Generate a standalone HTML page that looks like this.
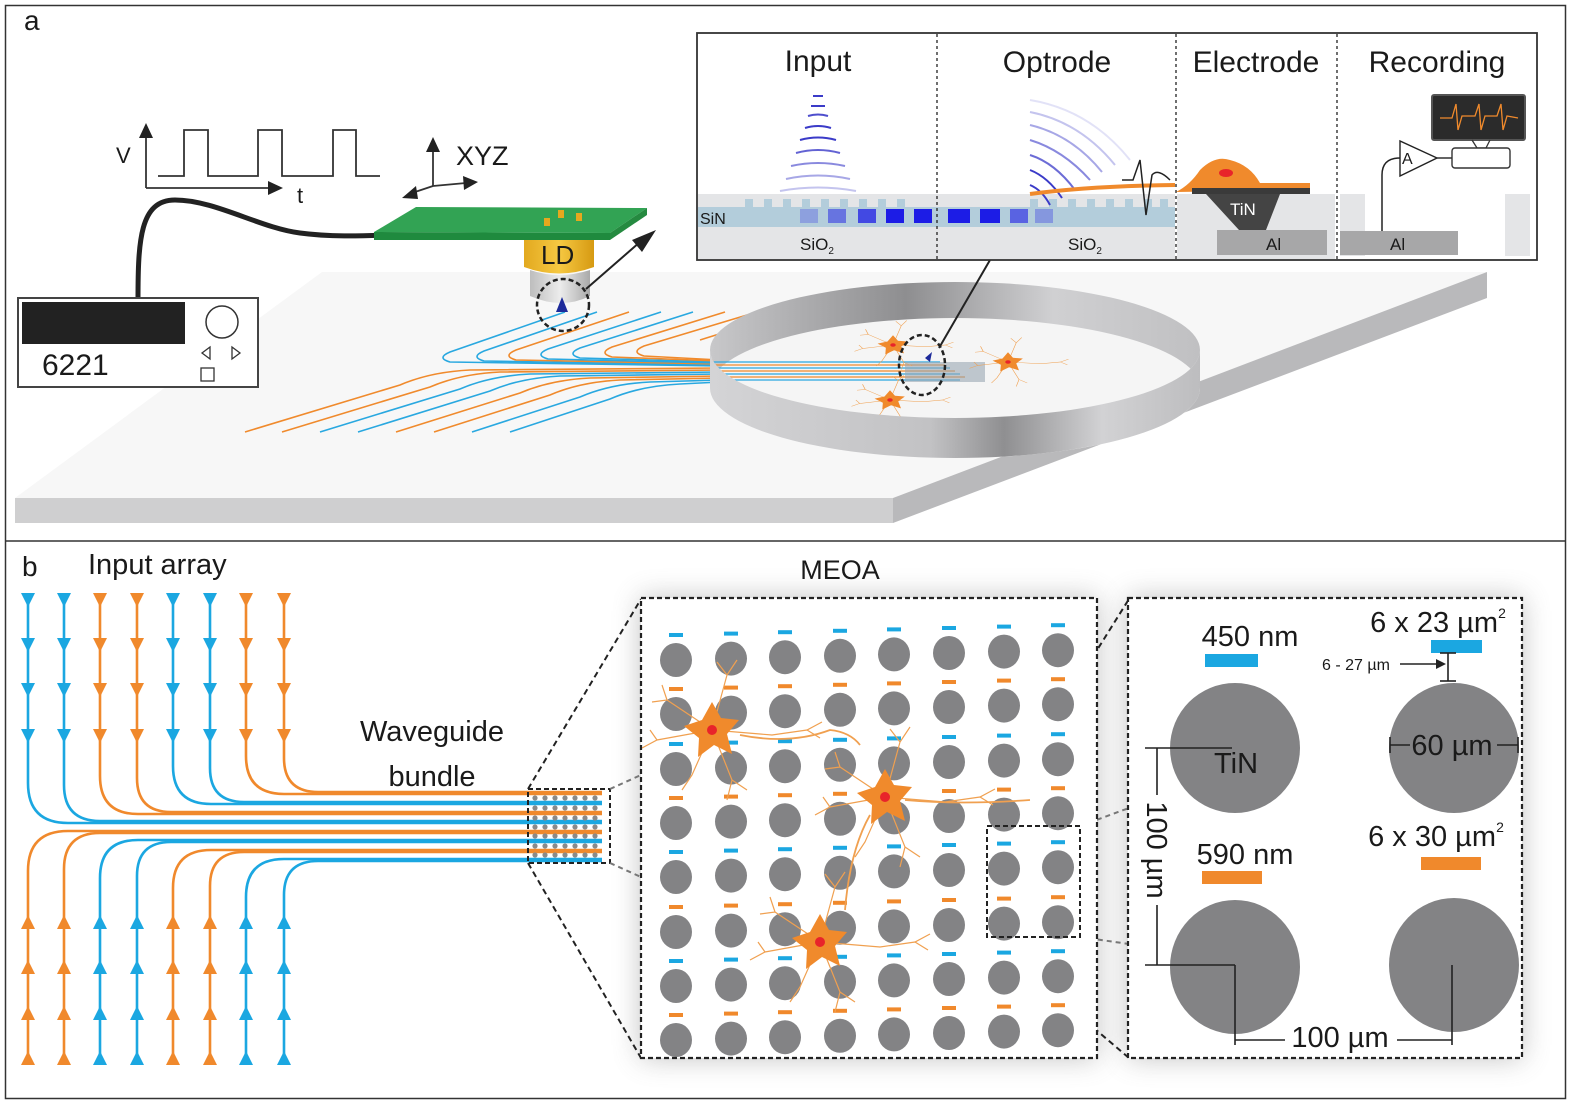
<!DOCTYPE html>
<html><head><meta charset="utf-8"><style>
html,body{margin:0;padding:0;background:#fff}
svg{display:block}
text{font-family:"Liberation Sans",sans-serif;fill:#1a1a1a}
</style></head><body>
<svg width="1575" height="1115" viewBox="0 0 1575 1115" xmlns="http://www.w3.org/2000/svg">
<defs>
<linearGradient id="wall" x1="0" x2="1" y1="0" y2="0">
<stop offset="0" stop-color="#d4d4d6"/><stop offset="0.45" stop-color="#c2c2c4"/><stop offset="0.6" stop-color="#8f8f91"/><stop offset="0.8" stop-color="#d2d2d4"/><stop offset="1" stop-color="#bdbdbf"/></linearGradient>
<linearGradient id="bwall" x1="0" x2="1"><stop offset="0" stop-color="#c8c8ca"/><stop offset="0.4" stop-color="#8e8e90"/><stop offset="0.7" stop-color="#d0d0d2"/><stop offset="1" stop-color="#c0c0c2"/></linearGradient>
<linearGradient id="cone" x1="0" x2="1"><stop offset="0" stop-color="#bdbdbd"/><stop offset="0.5" stop-color="#ececec"/><stop offset="1" stop-color="#a9a9a9"/></linearGradient>
<linearGradient id="ld" x1="0" x2="1"><stop offset="0" stop-color="#e2a91f"/><stop offset="0.5" stop-color="#f6c842"/><stop offset="1" stop-color="#d69a12"/></linearGradient>
<filter id="sh" x="-20%" y="-20%" width="140%" height="140%"><feGaussianBlur stdDeviation="14"/></filter>
<g id="crow">
<ellipse cx="676" cy="0" rx="16" ry="17"/><ellipse cx="731" cy="-1.4" rx="16" ry="17"/><ellipse cx="785" cy="-2.8" rx="16" ry="17"/><ellipse cx="840" cy="-4.2" rx="16" ry="17"/><ellipse cx="894" cy="-5.6" rx="16" ry="17"/><ellipse cx="949" cy="-7" rx="16" ry="17"/><ellipse cx="1004" cy="-8.4" rx="16" ry="17"/><ellipse cx="1058" cy="-9.8" rx="16" ry="17"/></g>
<g id="drow">
<rect x="669" y="-27" width="14" height="4"/><rect x="724" y="-28.4" width="14" height="4"/><rect x="778" y="-29.8" width="14" height="4"/><rect x="833" y="-31.2" width="14" height="4"/><rect x="887" y="-32.6" width="14" height="4"/><rect x="942" y="-34" width="14" height="4"/><rect x="997" y="-35.4" width="14" height="4"/><rect x="1051" y="-36.8" width="14" height="4"/></g>
<g id="neu">
<g stroke="#f0a050" stroke-width="1.2" fill="none">
<path d="M0,0 L-45,-30 L-60,-28 M-45,-30 L-50,-45 M0,0 L-55,10 L-70,18 M-55,10 L-62,0 M0,0 L15,-55 L25,-70 M15,-55 L5,-68 M0,0 L60,5 L95,0 L110,-8 M95,0 L108,8 M0,0 L20,50 L15,70 M20,50 L35,60 M0,0 L-20,45 L-30,60"/></g>
<path d="M0,-28 L9,-12 L27,-10 L15,4 L20,24 L2,15 L-14,27 L-13,8 L-28,-4 L-10,-10 Z" fill="#f08a2c"/>
<circle cx="0" cy="0" r="5" fill="#e8242a"/></g>
<g id="neuA" transform="scale(0.55,0.35)"><use href="#neu"/></g>
</defs>

<!-- outer frame -->
<rect x="5.5" y="5.5" width="1560" height="1093" fill="#fff" stroke="#333" stroke-width="1.5"/>
<line x1="5" y1="541" x2="1566" y2="541" stroke="#333" stroke-width="1.5"/>
<text x="24" y="30" font-size="28">a</text>
<text x="22" y="576" font-size="28">b</text>

<!-- ===== PART A ===== -->
<!-- plate -->
<polygon points="15,498 322,272 1487,272 893,498" fill="#f7f7f7"/>
<polygon points="15,498 893,498 893,523 15,523" fill="#cfcfd0"/>
<polygon points="893,498 1487,272 1487,298 893,523" fill="#b9b9bb"/>

<!-- waveguides on plate top group -->
<g fill="none" stroke-width="1.6">
<path d="M565,312 L450,352 Q436,358 450,362 L720,366" stroke="#29a8e0"/>
<path d="M597,312 L484,351 Q470,357 484,361 L720,365" stroke="#29a8e0"/>
<path d="M629,312 L516,350 Q502,356 516,360 L720,364" stroke="#f08a2c"/>
<path d="M661,312 L548,349 Q534,355 548,359 L720,363" stroke="#29a8e0"/>
<path d="M693,312 L580,348 Q566,354 580,358 L720,362" stroke="#29a8e0"/>
<path d="M725,312 L612,347 Q598,353 612,357 L720,361" stroke="#f08a2c"/>
<path d="M757,312 L644,346 Q630,352 644,356 L720,360" stroke="#f08a2c"/>
<path d="M789,312 L700,340" stroke="#f08a2c"/>
<path d="M720,368 L470,370 Q430,372 400,385 L245,432" stroke="#f08a2c"/>
<path d="M720,370 L500,372 Q460,374 430,387 L282,432" stroke="#f08a2c"/>
<path d="M720,372 L530,374 Q490,376 460,389 L320,432" stroke="#29a8e0"/>
<path d="M720,374 L560,376 Q520,378 490,391 L358,432" stroke="#29a8e0"/>
<path d="M720,376 L590,378 Q550,380 520,393 L396,432" stroke="#f08a2c"/>
<path d="M720,378 L620,380 Q580,382 550,395 L434,432" stroke="#f08a2c"/>
<path d="M720,380 L650,382 Q610,384 580,397 L472,432" stroke="#29a8e0"/>
<path d="M720,382 L680,384 Q640,386 610,399 L510,432" stroke="#29a8e0"/>
</g>

<!-- dish -->
<ellipse cx="955" cy="350" rx="245" ry="68" fill="url(#bwall)"/>
<ellipse cx="955" cy="388" rx="245" ry="70" fill="#f5f5f5"/>
<g stroke-width="1.3">
<line x1="712" y1="362" x2="940" y2="362" stroke="#29a8e0"/><line x1="712" y1="365" x2="945" y2="365" stroke="#f08a2c"/>
<line x1="712" y1="368" x2="950" y2="368" stroke="#29a8e0"/><line x1="712" y1="371" x2="955" y2="371" stroke="#f08a2c"/>
<line x1="712" y1="374" x2="960" y2="374" stroke="#29a8e0"/><line x1="712" y1="377" x2="965" y2="377" stroke="#f08a2c"/>
<line x1="712" y1="380" x2="960" y2="380" stroke="#29a8e0"/>
</g>
<rect x="905" y="362" width="80" height="20" fill="#9aa7b3" opacity="0.6"/>
<use href="#neuA" transform="translate(893,345)"/>
<use href="#neuA" transform="translate(1008,362)"/>
<use href="#neuA" transform="translate(890,400)"/>
<path d="M710,350 A245,68 0 0 0 1200,350 L1200,388 A245,70 0 0 1 710,388 Z" fill="url(#wall)"/>
<ellipse cx="922" cy="365" rx="23" ry="30" fill="none" stroke="#222" stroke-width="2.5" stroke-dasharray="5,3"/>
<path d="M925,358 L932,352 L930,362 Z" fill="#1d2a9a"/>
<line x1="990" y1="260" x2="939" y2="348" stroke="#222" stroke-width="2"/>

<!-- instrument -->
<path d="M138,300 C138,240 140,200 175,200 C215,200 260,228 300,233 C330,237 360,236 385,235" fill="none" stroke="#222" stroke-width="5"/>
<rect x="18" y="298" width="240" height="89" fill="#fff" stroke="#444" stroke-width="2"/>
<rect x="22" y="302" width="163" height="42" fill="#222"/>
<text x="42" y="375" font-size="30">6221</text>
<circle cx="222" cy="322" r="16" fill="none" stroke="#333" stroke-width="1.5"/>
<path d="M210,347 L202,353 L210,359 Z M232,347 L240,353 L232,359 Z" fill="none" stroke="#333" stroke-width="1.3"/>
<rect x="201" y="368" width="13" height="13" fill="none" stroke="#333" stroke-width="1.3"/>

<!-- square wave -->
<g stroke="#333" stroke-width="1.8" fill="none">
<line x1="146" y1="188" x2="146" y2="130"/><line x1="146" y1="188" x2="270" y2="188"/>
<path d="M158,176 L184,176 L184,130 L208,130 L208,176 L258,176 L258,130 L282,130 L282,176 L333,176 L333,130 L356,130 L356,176 L380,176"/>
<line x1="433" y1="186" x2="433" y2="150"/><line x1="433" y1="186" x2="466" y2="183"/><line x1="433" y1="186" x2="412" y2="193"/>
</g>
<path d="M139,138 L146,123 L153,138 Z M268,181 L283,188 L268,195 Z" fill="#222"/>
<path d="M426,152 L433,137 L440,152 Z M463,176 L478,182 L464,190 Z M416,186 L402,198 L418,199 Z" fill="#222"/>
<text x="116" y="163" font-size="22">V</text>
<text x="297" y="203" font-size="22">t</text>
<text x="456" y="165" font-size="27">XYZ</text>

<!-- board + LD -->
<polygon points="374,232 416,207 647,208 610,233" fill="#32a354"/>
<polygon points="374,232 610,233 610,240 374,240" fill="#1f8a3e"/>
<polygon points="610,233 647,208 647,215 610,240" fill="#258a40"/>
<rect x="544" y="218" width="6" height="8" fill="#e6a81e"/><rect x="558" y="210" width="6" height="8" fill="#e6a81e"/><rect x="576" y="213" width="6" height="8" fill="#e6a81e"/>
<path d="M524,240 L594,240 L594,267 Q559,280 524,267 Z" fill="url(#ld)"/>
<text x="541" y="264" font-size="26">LD</text>
<path d="M530,270 Q559,280 590,270 L590,296 Q562,310 530,296 Z" fill="url(#cone)"/>
<circle cx="563" cy="305" r="26" fill="none" stroke="#222" stroke-width="2.5" stroke-dasharray="5,3"/>
<path d="M562,297 L568,312 L556,312 Z" fill="#1d2a9a"/>
<line x1="586" y1="289" x2="640" y2="242" stroke="#222" stroke-width="2"/>
<path d="M632,240 L656,230 L642,252 Z" fill="#222"/>

<!-- inset -->
<rect x="697" y="33" width="840" height="227" fill="#fff" stroke="#333" stroke-width="1.8"/>
<rect x="698" y="194" width="477" height="65" fill="#e4e5e7"/>
<rect x="698" y="207" width="477" height="20" fill="#b3cddb"/>
<g fill="#b3cddb">
<rect x="745" y="199" width="8" height="9"/><rect x="764" y="199" width="8" height="9"/><rect x="783" y="199" width="8" height="9"/><rect x="802" y="199" width="8" height="9"/><rect x="821" y="199" width="8" height="9"/><rect x="840" y="199" width="8" height="9"/><rect x="859" y="199" width="8" height="9"/><rect x="878" y="199" width="8" height="9"/><rect x="897" y="199" width="8" height="9"/>
<rect x="1030" y="199" width="8" height="9"/><rect x="1049" y="199" width="8" height="9"/><rect x="1068" y="199" width="8" height="9"/><rect x="1087" y="199" width="8" height="9"/><rect x="1106" y="199" width="8" height="9"/><rect x="1125" y="199" width="8" height="9"/><rect x="1144" y="199" width="8" height="9"/><rect x="1160" y="199" width="8" height="9"/></g>
<g fill="#1c1ce6">
<rect x="800" y="209" width="18" height="14" opacity="0.25"/><rect x="828" y="209" width="18" height="14" opacity="0.5"/><rect x="858" y="209" width="18" height="14" opacity="0.75"/><rect x="886" y="209" width="18" height="14"/><rect x="914" y="209" width="18" height="14"/><rect x="948" y="209" width="22" height="14"/><rect x="980" y="209" width="20" height="14"/><rect x="1010" y="209" width="18" height="14" opacity="0.6"/><rect x="1035" y="209" width="18" height="14" opacity="0.3"/></g>
<text x="700" y="224" font-size="16">SiN</text>
<text x="800" y="250" font-size="17">SiO<tspan font-size="10" dy="4">2</tspan></text>
<text x="1068" y="250" font-size="17">SiO<tspan font-size="10" dy="4">2</tspan></text>
<!-- input cone -->
<g fill="none" stroke="#3b3bc8" stroke-width="2">
<path d="M813,96 L823,96 M811,106 L825,106" /><path d="M808,116 Q818,113 828,116" opacity="0.9"/><path d="M805,128 Q818,124 831,128"/><path d="M800,140 Q818,135 836,140"/><path d="M796,153 Q818,147 840,153" opacity="0.8"/><path d="M791,166 Q818,160 845,166" opacity="0.6"/><path d="M786,179 Q818,172 850,179" opacity="0.45"/><path d="M780,191 Q818,184 856,191" opacity="0.3"/></g>
<!-- optrode arcs -->
<g fill="none" stroke="#3b3bc8" stroke-width="2">
<path d="M1030,100 Q1090,110 1130,160" opacity="0.15"/><path d="M1030,112 Q1080,122 1115,165" opacity="0.3"/><path d="M1030,125 Q1072,135 1102,172" opacity="0.45"/><path d="M1030,140 Q1063,150 1090,180" opacity="0.6"/><path d="M1030,155 Q1055,163 1075,190" opacity="0.75"/><path d="M1030,170 Q1048,177 1062,198"/><path d="M1030,185 Q1042,190 1050,205"/></g>
<path d="M1030,194 Q1090,186 1175,185" fill="none" stroke="#f08a2c" stroke-width="4"/>
<path d="M1122,180 L1133,180 L1140,160 L1146,215 L1152,175 Q1158,168 1170,180" fill="none" stroke="#222" stroke-width="1.5"/>
<!-- electrode -->
<rect x="1177" y="194" width="158" height="65" fill="#e4e5e7"/>
<rect x="1217" y="230" width="110" height="25" fill="#a7a7a8"/>
<path d="M1176,192 Q1190,185 1200,170 Q1215,155 1230,160 Q1250,165 1260,183 L1310,183 L1310,190 L1176,192 Z" fill="#f08a2c"/>
<ellipse cx="1226" cy="173" rx="7" ry="4" fill="#e8242a"/>
<rect x="1192" y="188" width="118" height="6" fill="#3a3a3a"/>
<path d="M1206,194 L1280,194 L1266,230 L1239,230 Z" fill="#444"/>
<text x="1230" y="215" font-size="17" style="fill:#fff">TiN</text>
<text x="1266" y="250" font-size="17">Al</text>
<!-- recording -->
<rect x="1340" y="194" width="25" height="62" fill="#e4e5e7"/><rect x="1505" y="194" width="25" height="62" fill="#e4e5e7"/>
<rect x="1340" y="231" width="118" height="24" fill="#a7a7a8"/>
<text x="1390" y="250" font-size="17">Al</text>
<path d="M1382,231 L1382,175 Q1382,158 1400,158" fill="none" stroke="#222" stroke-width="1.5"/>
<path d="M1400,141 L1400,176 L1437,158 Z" fill="#fff" stroke="#222" stroke-width="1.4"/>
<text x="1402" y="164" font-size="16">A</text>
<line x1="1437" y1="158" x2="1452" y2="158" stroke="#222" stroke-width="1.4"/>
<rect x="1432" y="95" width="93" height="45" rx="2" fill="#2b2b2b" stroke="#555" stroke-width="2"/>
<path d="M1440,118 L1452,118 L1456,104 L1458,130 L1462,116 L1475,116 L1479,104 L1481,130 L1485,116 L1497,116 L1501,104 L1503,130 L1507,116 L1518,118" fill="none" stroke="#f08a2c" stroke-width="1.3"/>
<path d="M1472,140 L1477,148 L1486,148 L1490,140" fill="none" stroke="#333" stroke-width="1.3"/>
<rect x="1452" y="148" width="58" height="20" rx="3" fill="#fff" stroke="#333" stroke-width="1.4"/>
<!-- dividers -->
<g stroke="#222" stroke-width="1.3" stroke-dasharray="3,3">
<line x1="937" y1="34" x2="937" y2="259"/><line x1="1176" y1="34" x2="1176" y2="259"/><line x1="1337" y1="34" x2="1337" y2="259"/></g>
<g font-size="30" text-anchor="middle">
<text x="818" y="71">Input</text><text x="1057" y="72">Optrode</text><text x="1256" y="72">Electrode</text><text x="1437" y="72">Recording</text></g>

<!-- ===== PART B ===== -->
<text x="88" y="574" font-size="29">Input array</text>
<text x="432" y="741" font-size="29" text-anchor="middle">Waveguide</text>
<text x="432" y="786" font-size="29" text-anchor="middle">bundle</text>
<text x="840" y="579" font-size="27" text-anchor="middle">MEOA</text>

<g fill="none" stroke-width="2.6">
<path d="M28,596 V783 Q28,823 68,823 H602" stroke="#1ba7e1"/>
<path d="M64,596 V785 Q64,821 100,821 H602" stroke="#1ba7e1"/>
<path d="M100,596 V776 Q100,814 138,814 H602" stroke="#f0892c"/>
<path d="M137,596 V778 Q137,812 171,812 H602" stroke="#f0892c"/>
<path d="M173,596 V766 Q173,804 211,804 H602" stroke="#1ba7e1"/>
<path d="M210,596 V768 Q210,802 244,802 H602" stroke="#1ba7e1"/>
<path d="M246,596 V756 Q246,794 284,794 H602" stroke="#f0892c"/>
<path d="M284,596 V758 Q284,792 318,792 H602" stroke="#f0892c"/>
<path d="M28,1062 V871 Q28,831 68,831 H602" stroke="#f0892c"/>
<path d="M64,1062 V869 Q64,833 100,833 H602" stroke="#f0892c"/>
<path d="M100,1062 V878 Q100,840 138,840 H602" stroke="#1ba7e1"/>
<path d="M137,1062 V876 Q137,842 171,842 H602" stroke="#1ba7e1"/>
<path d="M173,1062 V888 Q173,850 211,850 H602" stroke="#f0892c"/>
<path d="M210,1062 V886 Q210,852 244,852 H602" stroke="#f0892c"/>
<path d="M246,1062 V897 Q246,859 284,859 H602" stroke="#1ba7e1"/>
<path d="M284,1062 V895 Q284,861 318,861 H602" stroke="#1ba7e1"/>
</g>
<!-- arrowheads down -->
<g id="adn">
<path d="M21,593 L35,593 L28,607 Z M21,638 L35,638 L28,652 Z M21,683 L35,683 L28,697 Z M21,729 L35,729 L28,743 Z" fill="#1ba7e1"/>
<path d="M57,593 L71,593 L64,607 Z M57,638 L71,638 L64,652 Z M57,683 L71,683 L64,697 Z M57,729 L71,729 L64,743 Z" fill="#1ba7e1"/>
<path d="M93,593 L107,593 L100,607 Z M93,638 L107,638 L100,652 Z M93,683 L107,683 L100,697 Z M93,729 L107,729 L100,743 Z" fill="#f0892c"/>
<path d="M130,593 L144,593 L137,607 Z M130,638 L144,638 L137,652 Z M130,683 L144,683 L137,697 Z M130,729 L144,729 L137,743 Z" fill="#f0892c"/>
<path d="M166,593 L180,593 L173,607 Z M166,638 L180,638 L173,652 Z M166,683 L180,683 L173,697 Z M166,729 L180,729 L173,743 Z" fill="#1ba7e1"/>
<path d="M203,593 L217,593 L210,607 Z M203,638 L217,638 L210,652 Z M203,683 L217,683 L210,697 Z M203,729 L217,729 L210,743 Z" fill="#1ba7e1"/>
<path d="M239,593 L253,593 L246,607 Z M239,638 L253,638 L246,652 Z M239,683 L253,683 L246,697 Z M239,729 L253,729 L246,743 Z" fill="#f0892c"/>
<path d="M277,593 L291,593 L284,607 Z M277,638 L291,638 L284,652 Z M277,683 L291,683 L284,697 Z M277,729 L291,729 L284,743 Z" fill="#f0892c"/>
</g>
<!-- arrowheads up -->
<path d="M21,929 L35,929 L28,915 Z M21,974 L35,974 L28,960 Z M21,1020 L35,1020 L28,1006 Z M21,1065 L35,1065 L28,1051 Z M57,929 L71,929 L64,915 Z M57,974 L71,974 L64,960 Z M57,1020 L71,1020 L64,1006 Z M57,1065 L71,1065 L64,1051 Z M166,929 L180,929 L173,915 Z M166,974 L180,974 L173,960 Z M166,1020 L180,1020 L173,1006 Z M166,1065 L180,1065 L173,1051 Z M203,929 L217,929 L210,915 Z M203,974 L217,974 L210,960 Z M203,1020 L217,1020 L210,1006 Z M203,1065 L217,1065 L210,1051 Z" fill="#f0892c"/>
<path d="M93,929 L107,929 L100,915 Z M93,974 L107,974 L100,960 Z M93,1020 L107,1020 L100,1006 Z M93,1065 L107,1065 L100,1051 Z M130,929 L144,929 L137,915 Z M130,974 L144,974 L137,960 Z M130,1020 L144,1020 L137,1006 Z M130,1065 L144,1065 L137,1051 Z M239,929 L253,929 L246,915 Z M239,974 L253,974 L246,960 Z M239,1020 L253,1020 L246,1006 Z M239,1065 L253,1065 L246,1051 Z M277,929 L291,929 L284,915 Z M277,974 L291,974 L284,960 Z M277,1020 L291,1020 L284,1006 Z M277,1065 L291,1065 L284,1051 Z" fill="#1ba7e1"/>

<!-- small grid on bundle end -->
<g fill="#8a8a8a">
<circle cx="535" cy="798" r="2.6"/><circle cx="545" cy="798" r="2.6"/><circle cx="555" cy="798" r="2.6"/><circle cx="565" cy="798" r="2.6"/><circle cx="575" cy="798" r="2.6"/><circle cx="585" cy="798" r="2.6"/><circle cx="595" cy="798" r="2.6"/>
<circle cx="535" cy="808" r="2.6"/><circle cx="545" cy="808" r="2.6"/><circle cx="555" cy="808" r="2.6"/><circle cx="565" cy="808" r="2.6"/><circle cx="575" cy="808" r="2.6"/><circle cx="585" cy="808" r="2.6"/><circle cx="595" cy="808" r="2.6"/>
<circle cx="535" cy="818" r="2.6"/><circle cx="545" cy="818" r="2.6"/><circle cx="555" cy="818" r="2.6"/><circle cx="565" cy="818" r="2.6"/><circle cx="575" cy="818" r="2.6"/><circle cx="585" cy="818" r="2.6"/><circle cx="595" cy="818" r="2.6"/>
<circle cx="535" cy="827" r="2.6"/><circle cx="545" cy="827" r="2.6"/><circle cx="555" cy="827" r="2.6"/><circle cx="565" cy="827" r="2.6"/><circle cx="575" cy="827" r="2.6"/><circle cx="585" cy="827" r="2.6"/><circle cx="595" cy="827" r="2.6"/>
<circle cx="535" cy="836" r="2.6"/><circle cx="545" cy="836" r="2.6"/><circle cx="555" cy="836" r="2.6"/><circle cx="565" cy="836" r="2.6"/><circle cx="575" cy="836" r="2.6"/><circle cx="585" cy="836" r="2.6"/><circle cx="595" cy="836" r="2.6"/>
<circle cx="535" cy="846" r="2.6"/><circle cx="545" cy="846" r="2.6"/><circle cx="555" cy="846" r="2.6"/><circle cx="565" cy="846" r="2.6"/><circle cx="575" cy="846" r="2.6"/><circle cx="585" cy="846" r="2.6"/><circle cx="595" cy="846" r="2.6"/>
<circle cx="535" cy="855" r="2.6"/><circle cx="545" cy="855" r="2.6"/><circle cx="555" cy="855" r="2.6"/><circle cx="565" cy="855" r="2.6"/><circle cx="575" cy="855" r="2.6"/><circle cx="585" cy="855" r="2.6"/><circle cx="595" cy="855" r="2.6"/>
</g>
<rect x="528" y="789" width="82" height="74" fill="none" stroke="#222" stroke-width="2" stroke-dasharray="5,3"/>

<!-- shadows -->
<rect x="641" y="598" width="456" height="460" fill="#777" opacity="0.45" filter="url(#sh)"/>
<rect x="1128" y="598" width="394" height="460" fill="#777" opacity="0.45" filter="url(#sh)"/>

<!-- zoom connector lines -->
<g stroke="#222" stroke-width="2" stroke-dasharray="6,4" fill="none">
<line x1="528" y1="789" x2="641" y2="599"/><line x1="528" y1="863" x2="641" y2="1058"/>
<line x1="987" y1="826" x2="1129" y2="599"/><line x1="987" y1="937" x2="1129" y2="1058"/></g>
<g stroke="#777" stroke-width="2" stroke-dasharray="5,4" fill="none">
<line x1="610" y1="789" x2="641" y2="775"/><line x1="610" y1="863" x2="641" y2="877"/>
<line x1="1080" y1="826" x2="1129" y2="808"/><line x1="1080" y1="937" x2="1129" y2="944"/></g>

<!-- MEOA box -->
<rect x="641" y="598" width="456" height="460" fill="#fff"/>
<g fill="#838385">
<use href="#crow" transform="translate(0,660)"/><use href="#crow" transform="translate(0,714)"/><use href="#crow" transform="translate(0,769)"/><use href="#crow" transform="translate(0,823)"/><use href="#crow" transform="translate(0,877)"/><use href="#crow" transform="translate(0,932)"/><use href="#crow" transform="translate(0,986)"/><use href="#crow" transform="translate(0,1040)"/></g>
<g fill="#1ba7e1"><use href="#drow" transform="translate(0,660)"/><use href="#drow" transform="translate(0,769)"/><use href="#drow" transform="translate(0,877)"/><use href="#drow" transform="translate(0,986)"/></g>
<g fill="#f0892c"><use href="#drow" transform="translate(0,714)"/><use href="#drow" transform="translate(0,823)"/><use href="#drow" transform="translate(0,932)"/><use href="#drow" transform="translate(0,1040)"/></g>
<use href="#neu" transform="translate(712,730)"/>
<use href="#neu" transform="translate(885,797)"/>
<use href="#neu" transform="translate(820,942)"/>
<path d="M740,735 Q790,745 830,730 Q850,732 860,745 M905,800 Q960,805 1030,800 M870,815 Q850,850 845,910" fill="none" stroke="#f0a050" stroke-width="1.8"/>
<rect x="641" y="598" width="456" height="460" fill="none" stroke="#222" stroke-width="2.2" stroke-dasharray="5,3"/>
<rect x="987" y="826" width="93" height="111" fill="none" stroke="#222" stroke-width="2" stroke-dasharray="5,3"/>

<!-- detail box -->
<rect x="1128" y="598" width="394" height="460" fill="#fff"/>
<g fill="#838385">
<ellipse cx="1235" cy="748" rx="65" ry="65"/><ellipse cx="1454" cy="748" rx="65" ry="65"/>
<ellipse cx="1235" cy="967" rx="65" ry="67"/><ellipse cx="1454" cy="965" rx="65" ry="67"/></g>
<rect x="1205" y="654" width="53" height="13" fill="#1ba7e1"/>
<rect x="1431" y="640" width="51" height="13" fill="#1ba7e1"/>
<rect x="1202" y="871" width="60" height="13" fill="#f0892c"/>
<rect x="1421" y="857" width="60" height="13" fill="#f0892c"/>
<g font-size="29" text-anchor="middle">
<text x="1250" y="646">450 nm</text>
<text x="1438" y="632">6 x 23 µm<tspan font-size="14" dy="-14">2</tspan></text>
<text x="1245" y="864">590 nm</text>
<text x="1436" y="846">6 x 30 µm<tspan font-size="14" dy="-14">2</tspan></text>
<text x="1236" y="773">TiN</text>
<text x="1452" y="755">60 µm</text>
<text x="1340" y="1047">100 µm</text>
</g>
<text x="1322" y="670" font-size="16">6 - 27 µm</text>
<g stroke="#222" stroke-width="1.6" fill="none">
<line x1="1400" y1="664" x2="1440" y2="664"/>
<line x1="1448" y1="653" x2="1448" y2="681"/><line x1="1440" y1="653" x2="1456" y2="653"/><line x1="1440" y1="681" x2="1456" y2="681"/>
<line x1="1390" y1="745" x2="1410" y2="745"/><line x1="1390" y1="737" x2="1390" y2="753"/>
<line x1="1497" y1="745" x2="1518" y2="745"/><line x1="1518" y1="737" x2="1518" y2="753"/>
<line x1="1145" y1="748" x2="1232" y2="748"/><line x1="1157" y1="748" x2="1157" y2="795"/><line x1="1157" y1="905" x2="1157" y2="965"/>
<line x1="1145" y1="965" x2="1235" y2="965"/><line x1="1235" y1="965" x2="1235" y2="1045"/>
<line x1="1235" y1="1040" x2="1285" y2="1040"/><line x1="1397" y1="1040" x2="1452" y2="1040"/>
<line x1="1452" y1="965" x2="1452" y2="1045"/>
</g>
<path d="M1436,659 L1446,664 L1436,669 Z" fill="#222"/>
<text x="0" y="0" font-size="29" text-anchor="middle" transform="translate(1147,850) rotate(90)">100 µm</text>
<rect x="1128" y="598" width="394" height="460" fill="none" stroke="#222" stroke-width="2.2" stroke-dasharray="5,3"/>
</svg>
</body></html>
